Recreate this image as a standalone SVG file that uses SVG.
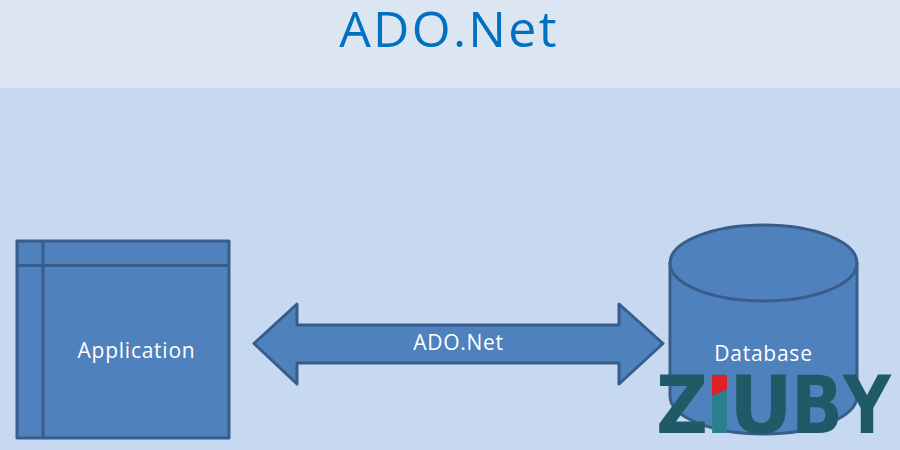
<svg xmlns="http://www.w3.org/2000/svg" width="900" height="450" viewBox="0 0 900 450">
<style>
.shape{fill:#4f81bd;stroke:#385d8a;stroke-width:3;stroke-linejoin:round}
.line{fill:none;stroke:#385d8a;stroke-width:3}
.lbl{font-family:"Open Sans","Noto Sans",sans-serif;font-size:21px;letter-spacing:.75px;fill:#fff;text-anchor:middle}
.logo{font-family:"DejaVu Sans",sans-serif;font-weight:bold;font-size:80px;fill:#1f5a66}
</style>
<rect width="900" height="450" fill="#c6d9f1"/>
<rect width="900" height="88" fill="#dce6f2"/>
<text id="title" x="449" y="47" font-family="'Open Sans','Noto Sans',sans-serif" font-size="50" letter-spacing="2.300" fill="#0070c0" text-anchor="middle">ADO.Net</text>
<g id="application">
<rect class="shape" x="17" y="241" width="212" height="197"/>
<path class="line" d="M17 265.500H229M43 241V438"/>
<text class="lbl" x="136.500" y="358">Application</text>
</g>
<g id="database">
<path class="shape" d="M670 263V396C670 417 712 434 763.500 434S857 417 857 396V263"/>
<ellipse class="shape" cx="763.500" cy="263" rx="93.500" ry="38"/>
<text class="lbl" x="763.500" y="361">Database</text>
</g>
<g id="connectors">
<path class="shape" d="M254 343.500L297 304V325H619V304L663 343.500L619 384V363H297V384Z"/>
<text class="lbl" x="458.500" y="350">ADO.Net</text>
</g>
<g id="logo">
<text class="logo" x="656" y="433" textLength="52" lengthAdjust="spacingAndGlyphs">Z</text>
<text class="logo" x="705" y="433" textLength="29" lengthAdjust="spacingAndGlyphs" style="fill:#2a7f8e">I</text>
<polygon points="712,375 727,375 727,389 712,396" fill="#e01f26"/>
<text class="logo" x="729" y="433" textLength="64" lengthAdjust="spacingAndGlyphs">U</text>
<text class="logo" x="791" y="433" textLength="52" lengthAdjust="spacingAndGlyphs">B</text>
<text class="logo" x="843" y="433" textLength="48" lengthAdjust="spacingAndGlyphs">Y</text>
</g>
</svg>
